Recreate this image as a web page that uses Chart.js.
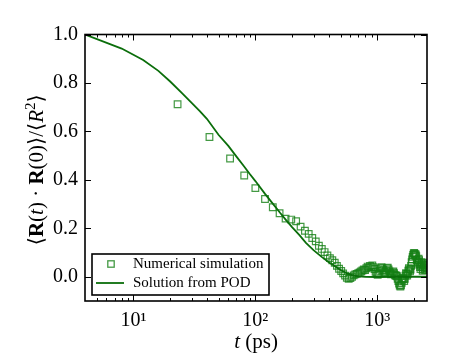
<!DOCTYPE html>
<html>
<head>
<meta charset="utf-8">
<script src="https://cdn.jsdelivr.net/npm/chart.js@4.4.1/dist/chart.umd.min.js"></script>
<style>
html,body{margin:0;padding:0;background:#fff;}
canvas{display:block;}
</style>
</head>
<body>
<canvas id="c" width="474" height="355" style="width:474px;height:355px"></canvas>
<script>
// ---- data ----
const simT = [23,42,62,81,100,120,139,158,177,197,216,235,255,274,293,313,332,351,370,390,409,428,448,467,486,506,525,544,563,583,602,621,641,660,679,699,718,737,756,776,795,814,834,853,872,892,911,930,950,969,988,1008,1027,1046,1066,1085,1104,1124,1143,1162,1181,1201,1220,1239,1259,1278,1297,1317,1336,1355,1374,1394,1413,1432,1452,1471,1490,1510,1529,1548,1567,1587,1606,1625,1645,1664,1683,1703,1722,1741,1760,1780,1799,1818,1838,1857,1876,1896,1915,1934,1953,1973,1992,2011,2031,2050,2069,2089,2108,2127,2146,2166,2185,2204,2224,2243,2262,2282,2301,2320,2339,2359,2378,2397,2417,2436,2455,2475,2494,2513,2532,2552];
const simY = [0.712,0.577,0.488,0.418,0.366,0.321,0.287,0.262,0.240,0.236,0.229,0.207,0.190,0.177,0.160,0.146,0.128,0.115,0.102,0.088,0.077,0.068,0.058,0.045,0.033,0.024,0.014,0.005,-0.004,-0.008,-0.005,0.000,0.006,0.010,0.012,0.015,0.018,0.022,0.026,0.030,0.028,0.035,0.042,0.038,0.045,0.040,0.047,0.040,0.032,0.020,0.012,0.008,0.015,0.025,0.035,0.040,0.035,0.028,0.020,0.018,0.025,0.035,0.038,0.030,0.022,0.015,0.010,0.012,0.018,0.022,0.015,0.008,0.004,0.006,0.002,-0.008,-0.018,-0.028,-0.036,-0.040,-0.035,-0.025,-0.012,-0.005,-0.010,-0.018,-0.008,0.005,0.015,0.012,0.005,0.012,0.025,0.035,0.030,0.022,0.030,0.045,0.060,0.072,0.082,0.090,0.096,0.098,0.094,0.088,0.092,0.085,0.070,0.058,0.050,0.062,0.075,0.068,0.052,0.040,0.032,0.045,0.060,0.055,0.040,0.025,0.030,0.048,0.058,0.050,0.035,0.028,0.040,0.052,0.045,0.035];
const podT = [4,8,12,16,20,25,30,35,40,50,60,70,80,90,100,120,140,160,180,200,230,260,300,350,400,450,500,560,620,700,800,1000,1500,2560];
const podY = [1.000,0.942,0.895,0.850,0.806,0.758,0.718,0.684,0.652,0.585,0.540,0.496,0.458,0.424,0.395,0.342,0.300,0.263,0.232,0.205,0.172,0.140,0.110,0.082,0.060,0.043,0.028,0.015,0.007,0.002,0.000,-0.001,0.000,0.000];
const yTicks = [0.0,0.2,0.4,0.6,0.8,1.0];
const xTicks = [5,6,7,8,9,10,20,30,40,50,60,70,80,90,100,200,300,400,500,600,700,800,900,1000,2000];
const xLabels = {10:'10\u00B9',100:'10\u00B2',1000:'10\u00B3'};
const seriesNames = ['Numerical simulation','Solution from POD'];

const SERIF = '"Liberation Serif", "DejaVu Serif", serif';
const simColor = 'rgba(20,128,20,0.8)';
const lineColor = '#0b6e0b';

const decor = {
  id:'decor',
  afterDraw(chart){
    const ctx = chart.ctx, a = chart.chartArea;
    const xs = chart.scales.x, ys = chart.scales.y;
    ctx.save();
    ctx.strokeStyle = '#000';
    ctx.lineWidth = 1;
    // inward ticks
    ctx.beginPath();
    xs.ticks.forEach(t=>{
      const px = Math.round(xs.getPixelForValue(t.value))+0.5;
      const major = xLabels[t.value] !== undefined;
      const L = major ? 6 : 3;
      ctx.moveTo(px,a.bottom); ctx.lineTo(px,a.bottom-L);
      ctx.moveTo(px,a.top); ctx.lineTo(px,a.top+L);
    });
    ys.ticks.forEach(t=>{
      const py = Math.round(ys.getPixelForValue(t.value))+0.5;
      ctx.moveTo(a.left,py); ctx.lineTo(a.left+6,py);
      ctx.moveTo(a.right,py); ctx.lineTo(a.right-6,py);
    });
    ctx.stroke();
    // frame
    ctx.lineWidth = 1.6;
    ctx.strokeRect(a.left, a.top, a.right-a.left, a.bottom-a.top);

    // legend
    const lx=92, ly=254, lw=177, lh=41;
    ctx.fillStyle='#fff';
    ctx.fillRect(lx,ly,lw,lh);
    ctx.lineWidth=1.6; ctx.strokeStyle='#000';
    ctx.strokeRect(lx,ly,lw,lh);
    ctx.strokeStyle=simColor; ctx.lineWidth=1.3;
    ctx.strokeRect(111-3.2,264-3.2,6.4,6.4);
    ctx.strokeStyle=lineColor; ctx.lineWidth=1.8;
    ctx.beginPath(); ctx.moveTo(96,283); ctx.lineTo(124,283); ctx.stroke();
    ctx.fillStyle='#000';
    ctx.font='15px '+SERIF;
    ctx.textBaseline='middle'; ctx.textAlign='left';
    ctx.fillText(seriesNames[0],133,264.5);
    ctx.fillText(seriesNames[1],133,283.5);

    // x title
    const fs=21;
    ctx.textBaseline='alphabetic';
    const partsX=[['t','italic '],[' (ps)','']];
    let w=0; partsX.forEach(p=>{ctx.font=p[1]+fs+'px '+SERIF; w+=ctx.measureText(p[0]).width;});
    let x=(a.left+a.right)/2 - w/2;
    partsX.forEach(p=>{ctx.font=p[1]+fs+'px '+SERIF; ctx.fillText(p[0],x,348); x+=ctx.measureText(p[0]).width;});

    // y title
    const fy=21;
    const partsY=[['\u27E8','',0],['R','bold ',0],['(','',0],['t','italic ',0],[')','',0],[' \u00B7 ','',0],['R','bold ',0],['(0)\u27E9/\u27E8','',0],['R','italic ',0],['2','',1],['\u27E9','',0]];
    const fontOf=p=> p[1]+(p[2]?Math.round(fy*0.7):fy)+'px '+SERIF;
    w=0; partsY.forEach(p=>{ctx.font=fontOf(p); w+=ctx.measureText(p[0]).width;});
    ctx.save();
    ctx.translate(43,(a.top+a.bottom)/2+2);
    ctx.rotate(-Math.PI/2);
    x=-w/2;
    partsY.forEach(p=>{ctx.font=fontOf(p); ctx.fillText(p[0],x,p[2]?-8:0); x+=ctx.measureText(p[0]).width;});
    ctx.restore();
    ctx.restore();
  }
};

new Chart(document.getElementById('c'),{
  type:'scatter',
  data:{datasets:[
    {label:seriesNames[0], data:simT.map((t,i)=>({x:t,y:simY[i]})),
     pointStyle:'rect', pointRadius:4.7, pointBorderWidth:1.2, pointBorderColor:simColor,
     pointBackgroundColor:'rgba(0,0,0,0)', borderColor:simColor, showLine:false, order:2},
    {label:seriesNames[1], data:podT.map((t,i)=>({x:t,y:podY[i]})),
     showLine:true, pointRadius:0, borderColor:lineColor, borderWidth:1.8, tension:0, order:1}
  ]},
  options:{
    responsive:false, animation:false, devicePixelRatio:1,
    layout:{padding:{top:34.5,right:47,left:0,bottom:0}},
    plugins:{legend:{display:false},tooltip:{enabled:false}},
    scales:{
      x:{type:'logarithmic', min:4, max:2560,
         grid:{display:false, drawTicks:false}, border:{display:false},
         afterBuildTicks(s){ s.ticks = xTicks.map(v=>({value:v, major: xLabels[v]!==undefined})); },
         afterFit(s){ s.height=54; },
         ticks:{autoSkip:false, maxRotation:0, padding:8, color:'#000',
                font:{family:SERIF,size:20},
                callback:(v)=> xLabels[v] || ''}
      },
      y:{type:'linear', min:-0.1, max:1.0,
         grid:{display:false, drawTicks:false}, border:{display:false},
         afterBuildTicks(s){ s.ticks = yTicks.map(v=>({value:v})); },
         afterFit(s){ s.width=85; },
         ticks:{padding:7, color:'#000', font:{family:SERIF,size:20},
                callback:(v)=> v.toFixed(1)}
      }
    }
  },
  plugins:[decor]
});
</script>
</body>
</html>
